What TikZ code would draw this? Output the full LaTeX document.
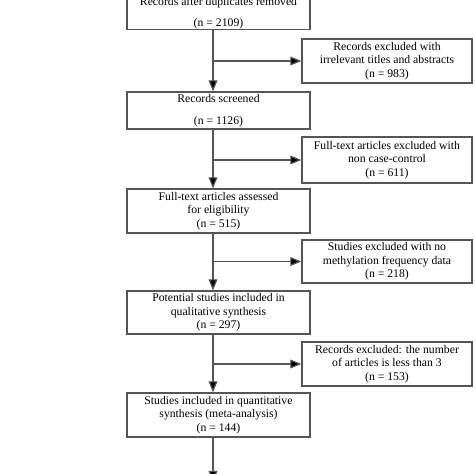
\documentclass[tikz,border=0pt]{standalone}
\usepackage{fontspec}
\setmainfont{Liberation Serif}
\usepackage{tikz}
\usetikzlibrary{arrows.meta,positioning}
\definecolor{linegray}{RGB}{85,85,85}

\begin{document}
\begin{tikzpicture}[
  x=0.03cm, y=-0.03cm,
  font=\fontsize{10}{11.5}\selectfont,
  mainbox/.style={draw=linegray,line width=1pt,align=center,inner sep=0pt,
    minimum width=5.49cm,minimum height=1.32cm},
  sidebox/.style={draw=linegray,line width=1pt,align=center,inner sep=0pt,
    minimum width=5.1cm,minimum height=1.32cm},
  arr/.style={draw=linegray,line width=1pt,-{Triangle[length=9.5pt,width=7.5pt,fill=black]}}
]
\useasboundingbox (0,0) rectangle (474,474);
% main column
\node[mainbox,minimum height=0.96cm] (dup) at (218.5,13) {Records after duplicates removed\\[7pt](n = 2109)};
\node[mainbox,minimum height=1.11cm] (scr) at (218.5,110.5) {Records screened\\[7pt](n = 1126)};
\node[mainbox] (elig) at (218.5,211) {Full-text articles assessed\\for eligibility\\(n = 515)};
\node[mainbox,minimum height=1.29cm] (qual) at (218.5,312.5) {Potential studies included in\\qualitative synthesis\\(n = 297)};
\node[mainbox] (quant) at (218.5,415) {Studies included in quantitative\\synthesis (meta-analysis)\\(n = 144)};
% exclusions
\node[sidebox] (ex1) at (387,61) {Records excluded with\\irrelevant titles and abstracts\\(n = 983)};
\node[sidebox,minimum height=1.38cm] (ex2) at (387,160) {Full-text articles excluded with\\non case-control\\(n = 611)};
\node[sidebox,minimum height=1.29cm] (ex3) at (387,261.5) {Studies excluded with no\\methylation frequency data\\(n = 218)};
\node[sidebox] (ex4) at (387,364) {Records excluded: the number\\of articles is less than 3\\(n = 153)};
% arrows
\coordinate (ax) at (213,0);
\coordinate (tail) at (213,482);
\draw[arr] (ax |- dup.south) -- (ax |- scr.north);
\draw[arr] (ax |- scr.south) -- (ax |- elig.north);
\draw[arr] (ax |- elig.south) -- (ax |- qual.north);
\draw[arr] (ax |- qual.south) -- (ax |- quant.north);
\draw[arr] (ax |- quant.south) -- (tail);
\draw[arr] (ax |- ex1.west) -- (ex1.west);
\draw[arr] (ax |- ex2.west) -- (ex2.west);
\draw[arr] (ax |- ex3.west) -- (ex3.west);
\draw[arr] (ax |- ex4.west) -- (ex4.west);
\end{tikzpicture}
\end{document}
